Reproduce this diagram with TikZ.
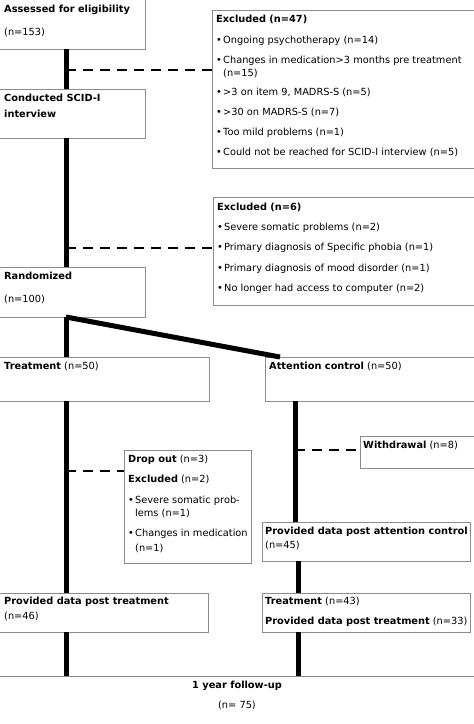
\documentclass[tikz,border=0pt]{standalone}
\usepackage{fontspec}
\setmainfont{DejaVu Sans}
\usetikzlibrary{positioning}

\newcommand{\itm}{\makebox[7pt][l]{\textbullet}}

\begin{document}
\begin{tikzpicture}[x=1pt,y=-1pt,
	box/.style={draw=black!45,line width=0.8pt,fill=white,anchor=north west,inner sep=0pt,outer sep=0pt},
	txt/.style={anchor=mid west,inner sep=0pt,font=\fontsize{9.8}{11}\selectfont},
	trunk/.style={line width=5pt},
	drop/.style={line width=1.8pt,dash pattern=on 10pt off 7pt}]
	\useasboundingbox (0,0) rectangle (474,724);
	% boxes
	\node[box,minimum width=146pt,minimum height=50pt] (assess) at (-1,-1) {};
	\node[box,minimum width=264pt,minimum height=158pt] (excl1) at (212,10) {};
	\node[box,minimum width=146pt,minimum height=49pt] (scid) at (-1,89) {};
	\node[box,minimum width=263pt,minimum height=108pt] (excl2) at (213,197) {};
	\node[box,minimum width=146pt,minimum height=50pt] (rand) at (-1,267) {};
	\node[box,minimum width=210pt,minimum height=44pt] (treat) at (-1,357) {};
	\node[box,minimum width=211pt,minimum height=44pt] (ctrl) at (265,357) {};
	\node[box,minimum width=116pt,minimum height=32pt] (withdr) at (360,436) {};
	\node[box,minimum width=127pt,minimum height=113pt] (dropout) at (124,450) {};
	\node[box,minimum width=208pt,minimum height=39pt] (postctrl) at (262,522) {};
	\node[box,minimum width=209pt,minimum height=39pt] (posttreat) at (-1,593) {};
	\node[box,minimum width=208pt,minimum height=39pt] (ctrltreat) at (262,593) {};
	\node[box,minimum width=476pt,minimum height=50pt] (follow) at (-1,676) {};

	% texts
	\node[txt] (t1) at (4,10) {\textbf{Assessed for eligibility}};
	\node[txt] (t2) at (4,33) {(n=153)};
	\node[txt] (e1) at (216,20) {\textbf{Excluded (n=47)}};
	\node[txt] (e2) at (216,41) {\itm Ongoing psychotherapy (n=14)};
	\node[txt] (e3) at (216,61) {\itm Changes in medication>3 months pre treatment};
	\node[txt] (e3b) at (223,74) {(n=15)};
	\node[txt] (e4) at (216,93) {\itm >3 on item 9, MADRS-S (n=5)};
	\node[txt] (e5) at (216,113) {\itm >30 on MADRS-S (n=7)};
	\node[txt] (e6) at (216,133) {\itm Too mild problems (n=1)};
	\node[txt] (e7) at (216,153) {\itm Could not be reached for SCID-I interview (n=5)};
	\node[txt] (s1) at (4,99) {\textbf{Conducted SCID-I}};
	\node[txt] (s2) at (4,115) {\textbf{interview}};
	\node[txt] (f1) at (217,208) {\textbf{Excluded (n=6)}};
	\node[txt] (f2) at (217,228) {\itm Severe somatic problems (n=2)};
	\node[txt] (f3) at (217,248) {\itm Primary diagnosis of Specific phobia (n=1)};
	\node[txt] (f4) at (217,269) {\itm Primary diagnosis of mood disorder (n=1)};
	\node[txt] (f5) at (217,289) {\itm No longer had access to computer (n=2)};
	\node[txt] (r1) at (4,277) {\textbf{Randomized}};
	\node[txt] (r2) at (4,300) {(n=100)};
	\node[txt] (g1) at (4,367) {\textbf{Treatment} (n=50)};
	\node[txt] (h1) at (269,367) {\textbf{Attention control} (n=50)};
	\node[txt] (w1) at (363,446) {\textbf{Withdrawal} (n=8)};
	\node[txt] (d1) at (128,460) {\textbf{Drop out} (n=3)};
	\node[txt] (d2) at (128,480) {\textbf{Excluded} (n=2)};
	\node[txt] (d3) at (128,501) {\itm Severe somatic prob-};
	\node[txt] (d3b) at (135,514) {lems (n=1)};
	\node[txt] (d4) at (128,534) {\itm Changes in medication};
	\node[txt] (d4b) at (135,549) {(n=1)};
	\node[txt] (p1) at (265,532) {\textbf{Provided data post attention control}};
	\node[txt] (p2) at (265,546) {(n=45)};
	\node[txt] (q1) at (4,602) {\textbf{Provided data post treatment}};
	\node[txt] (q2) at (4,617) {(n=46)};
	\node[txt] (k1) at (265,602) {\textbf{Treatment} (n=43)};
	\node[txt] (k2) at (265,622) {\textbf{Provided data post treatment} (n=33)};
	\node[txt,anchor=mid] (y1) at (237,686) {\textbf{1 year follow-up}};
	\node[txt,anchor=mid] (y2) at (237,706) {(n= 75)};

	% trunks
	\coordinate (lx) at (66,0);
	\coordinate (rx) at (295,0);
	\coordinate (rx2) at (298,0);
	\coordinate (cx) at (280,0);
	\draw[trunk] (assess.south -| lx) -- (scid.north -| lx);
	\draw[trunk] (scid.south -| lx) -- (rand.north -| lx);
	\draw[trunk] (rand.south -| lx) -- (treat.north -| lx);
	\draw[trunk] (rand.south -| lx) -- (ctrl.north -| cx);
	\draw[trunk] (treat.south -| lx) -- (posttreat.north -| lx);
	\draw[trunk] (posttreat.south -| lx) -- (follow.north -| lx);
	\draw[trunk] (ctrl.south -| rx) -- (postctrl.north -| rx);
	\draw[trunk] (postctrl.south -| rx2) -- (ctrltreat.north -| rx2);
	\draw[trunk] (ctrltreat.south -| rx2) -- (follow.north -| rx2);

	% dashed exits
	\coordinate (x1) at (66,70);
	\coordinate (x2) at (66,248);
	\coordinate (x3) at (66,471);
	\coordinate (x4) at (295,450);
	\draw[drop] (x1) -- (x1 -| excl1.west);
	\draw[drop] (x2) -- (x2 -| excl2.west);
	\draw[drop] (x3) -- (x3 -| dropout.west);
	\draw[drop] (x4) -- (x4 -| withdr.west);
\end{tikzpicture}
\end{document}
